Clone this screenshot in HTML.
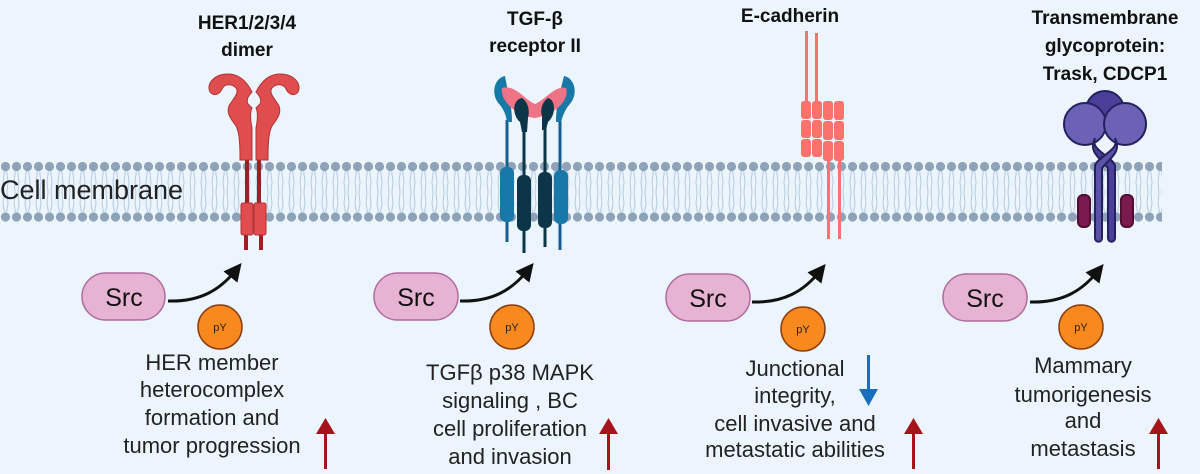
<!DOCTYPE html>
<html><head><meta charset="utf-8"><style>
html,body{margin:0;padding:0;background:#ecf4fd;}
svg{display:block}
text{font-family:"Liberation Sans","DejaVu Sans",sans-serif;}
.lbl{font-weight:bold;font-size:19px;fill:#111;text-anchor:middle}
.t{font-size:22px;fill:#222;text-anchor:middle}
.src{font-size:25px;fill:#111;text-anchor:middle}
.py{font-size:11px;fill:#222;text-anchor:middle}
</style></head><body>
<svg width="1200" height="474" viewBox="0 0 1200 474" xmlns="http://www.w3.org/2000/svg">
<defs>
<pattern id="mem" x="0" y="160" width="11" height="64" patternUnits="userSpaceOnUse">
 <path d="M4.5 10 L3 22 L4 32 M6.5 10 L8 22 L7 32 M4 32 L3 44 L4.5 52 M7 32 L8 44 L6.5 52" stroke="#b5cbe0" stroke-width="1" fill="none"/>
 <circle cx="5.5" cy="6.5" r="4.6" fill="#8fa3b8"/>
 <circle cx="5.5" cy="57" r="4.6" fill="#8fa3b8"/>
</pattern>
<marker id="ah" markerWidth="6" markerHeight="6" refX="3" refY="3" orient="auto"><path d="M0 0 L6 3 L0 6 Z" fill="#111"/></marker>
</defs>
<rect width="1200" height="474" fill="#ecf4fd"/>
<rect x="0" y="160" width="1162" height="64" fill="url(#mem)"/>
<text x="0" y="199" font-size="27" fill="#222" style="font-family:'Liberation Sans',sans-serif">Cell membrane</text>

<text class="lbl" x="247" y="29">HER1/2/3/4</text>
<text class="lbl" x="247" y="56">dimer</text>
<text class="lbl" x="535" y="25">TGF-β</text>
<text class="lbl" x="535" y="52">receptor II</text>
<text class="lbl" x="790" y="22">E-cadherin</text>
<text class="lbl" x="1105" y="24">Transmembrane</text>
<text class="lbl" x="1105" y="52">glycoprotein:</text>
<text class="lbl" x="1105" y="80">Trask, CDCP1</text>

<!-- HER dimer -->
<g stroke="#a01d22" stroke-width="4"><line x1="247" y1="160" x2="247" y2="205"/><line x1="259" y1="160" x2="259" y2="205"/><line x1="246" y1="235" x2="246" y2="250"/><line x1="261" y1="235" x2="261" y2="250"/></g>
<g fill="#e04d4f" stroke="#b03235" stroke-width="1">
 <path d="M252 92 C246 80 238 74 228 74 C214 74 206 84 210 92 C214 97 220 94 222 89 C224 84 232 83 236 88 C240 93 232 100 229 106 C226 114 232 120 236 126 C239 132 240 140 240 160 L252 160 L252 128 C250 118 250 112 252 108 L248 104 C246 100 248 96 252 92 Z"/>
 <path d="M256 92 C262 80 270 74 280 74 C294 74 302 84 298 92 C294 97 288 94 286 89 C284 84 276 83 272 88 C268 93 276 100 279 106 C282 114 276 120 272 126 C269 132 268 140 268 160 L256 160 L256 128 C258 118 258 112 256 108 L260 104 C262 100 260 96 256 92 Z"/>
 <rect x="241" y="203" width="12" height="32" rx="2"/>
 <rect x="254" y="203" width="12" height="32" rx="2"/>
</g>

<!-- TGF receptor -->
<g>
 <line x1="507" y1="120" x2="507" y2="242" stroke="#155f8f" stroke-width="3"/>
 <line x1="560" y1="120" x2="560" y2="250" stroke="#155f8f" stroke-width="3"/>
 <line x1="524" y1="125" x2="524" y2="253" stroke="#0c3548" stroke-width="3"/>
 <line x1="545" y1="125" x2="545" y2="247" stroke="#0c3548" stroke-width="3"/>
 <path d="M505 76 C494 78 490 95 500 105 C504 110 506 115 507 122 L512 122 C512 110 510 100 508 92 Z" fill="#1878a8"/>
 <path d="M564 76 C575 78 579 95 569 105 C565 110 563 115 561 122 L556 122 C556 110 558 100 560 92 Z" fill="#1878a8"/>
 <path d="M502 88 C515 84 525 100 535 104 C545 100 555 85 566 88 C570 100 555 115 535 118 C515 116 500 100 502 88 Z" fill="#ee7386"/>
 <path d="M522 98 C512 100 512 115 520 122 L522 132 L527 132 L528 118 C530 110 528 102 522 98 Z" fill="#0c3548"/>
 <path d="M548 98 C556 100 556 115 548 122 L546 130 L542 130 L542 116 C540 110 542 102 548 98 Z" fill="#0c3548"/>
 <rect x="500" y="167" width="14" height="55" rx="6" fill="#1878a8"/>
 <rect x="554" y="170" width="14" height="54" rx="6" fill="#1878a8"/>
 <rect x="517" y="175" width="14" height="56" rx="6" fill="#0c3548"/>
 <rect x="538" y="172" width="14" height="56" rx="6" fill="#0c3548"/>
</g>

<!-- E-cadherin -->
<g fill="#fb726c">
 <rect x="805" y="31" width="3" height="72"/><rect x="815" y="33" width="3" height="70"/>
 <rect x="801" y="101" width="10" height="18" rx="3"/><rect x="812" y="101" width="10" height="18" rx="3"/>
 <rect x="801" y="120" width="10" height="18" rx="3"/><rect x="812" y="120" width="10" height="18" rx="3"/>
 <rect x="801" y="139" width="10" height="18" rx="3"/><rect x="812" y="139" width="10" height="18" rx="3"/>
 <rect x="823" y="101" width="10" height="19" rx="3"/><rect x="834" y="101" width="10" height="19" rx="3"/>
 <rect x="823" y="121" width="10" height="19" rx="3"/><rect x="834" y="121" width="10" height="19" rx="3"/>
 <rect x="823" y="141" width="10" height="20" rx="3"/><rect x="834" y="141" width="10" height="20" rx="3"/>
 <rect x="827" y="160" width="3" height="79"/><rect x="838" y="160" width="3" height="79"/>
</g>

<!-- Trask CDCP1 -->
<g stroke="#26215e" stroke-width="2">
 <rect x="1078" y="195" width="12" height="32" rx="5" fill="#7a1a4f" stroke="#4e0f32"/>
 <rect x="1121" y="195" width="12" height="32" rx="5" fill="#7a1a4f" stroke="#4e0f32"/>
 <circle cx="1105" cy="110" r="19" fill="#4a409a"/>
 <circle cx="1085" cy="124" r="21" fill="#6b62b5"/>
 <circle cx="1125" cy="124" r="21" fill="#6b62b5"/>
 <path d="M1095 138 C1090 150 1110 155 1115 165 L1115 238 C1115 243 1108 243 1108 238 L1108 168 C1100 158 1088 152 1095 138 Z" fill="#4a409a"/>
 <path d="M1115 138 C1120 150 1100 155 1095 165 L1095 238 C1095 243 1102 243 1102 238 L1102 168 C1110 158 1122 152 1115 138 Z" fill="#5b52a8"/>
</g>

<!-- Src / pY groups -->
<g fill="#e7b3d3" stroke="#b06ba0" stroke-width="1.5">
 <rect x="82" y="273" width="83" height="47" rx="23.5"/>
 <rect x="374" y="273" width="84" height="47" rx="23.5"/>
 <rect x="666" y="274" width="84" height="47" rx="23.5"/>
 <rect x="943" y="274" width="84" height="47" rx="23.5"/>
</g>
<text class="src" x="124" y="306">Src</text>
<text class="src" x="416" y="306">Src</text>
<text class="src" x="708" y="307">Src</text>
<text class="src" x="985" y="307">Src</text>
<g fill="#f7891f" stroke="#8a3d10" stroke-width="1.5">
 <circle cx="220" cy="327" r="22"/><circle cx="512" cy="327" r="22"/>
 <circle cx="803" cy="329" r="22"/><circle cx="1081" cy="327" r="22"/>
</g>
<text class="py" x="220" y="331">pY</text><text class="py" x="512" y="331">pY</text>
<text class="py" x="803" y="333">pY</text><text class="py" x="1081" y="331">pY</text>
<g stroke="#111" stroke-width="3" fill="none" marker-end="url(#ah)">
 <path d="M168 301 C200 302 220 290 236 270"/>
 <path d="M460 301 C492 302 512 290 528 270"/>
 <path d="M752 302 C784 303 804 291 820 271"/>
 <path d="M1030 302 C1062 303 1082 291 1098 271"/>
</g>

<text class="t" x="212" y="370">HER member</text>
<text class="t" x="212" y="397">heterocomplex</text>
<text class="t" x="212" y="425">formation and</text>
<text class="t" x="212" y="453">tumor progression</text>
<text class="t" x="510" y="380">TGFβ p38 MAPK</text>
<text class="t" x="510" y="408">signaling , BC</text>
<text class="t" x="510" y="436">cell proliferation</text>
<text class="t" x="510" y="464">and invasion</text>
<text class="t" x="795" y="376">Junctional</text>
<text class="t" x="795" y="403">integrity,</text>
<text class="t" x="795" y="431">cell invasive and</text>
<text class="t" x="795" y="457">metastatic abilities</text>
<text class="t" x="1083" y="373">Mammary</text>
<text class="t" x="1083" y="402">tumorigenesis</text>
<text class="t" x="1083" y="428">and</text>
<text class="t" x="1083" y="456">metastasis</text>

<g fill="#a5141a">
 <rect x="324" y="432" width="3" height="37"/><path d="M316 434 L325.5 418 L335 434 Z"/>
 <rect x="607" y="432" width="3" height="38"/><path d="M599 434 L608.5 418 L618 434 Z"/>
 <rect x="912" y="432" width="3" height="37"/><path d="M904 434 L913.5 418 L923 434 Z"/>
 <rect x="1157" y="432" width="3" height="37"/><path d="M1149 434 L1158.5 418 L1168 434 Z"/>
</g>
<g fill="#1a6fbc">
 <rect x="867" y="355" width="3" height="36"/><path d="M859 389 L868.5 406 L878 389 Z"/>
</g>
</svg>
</body></html>
